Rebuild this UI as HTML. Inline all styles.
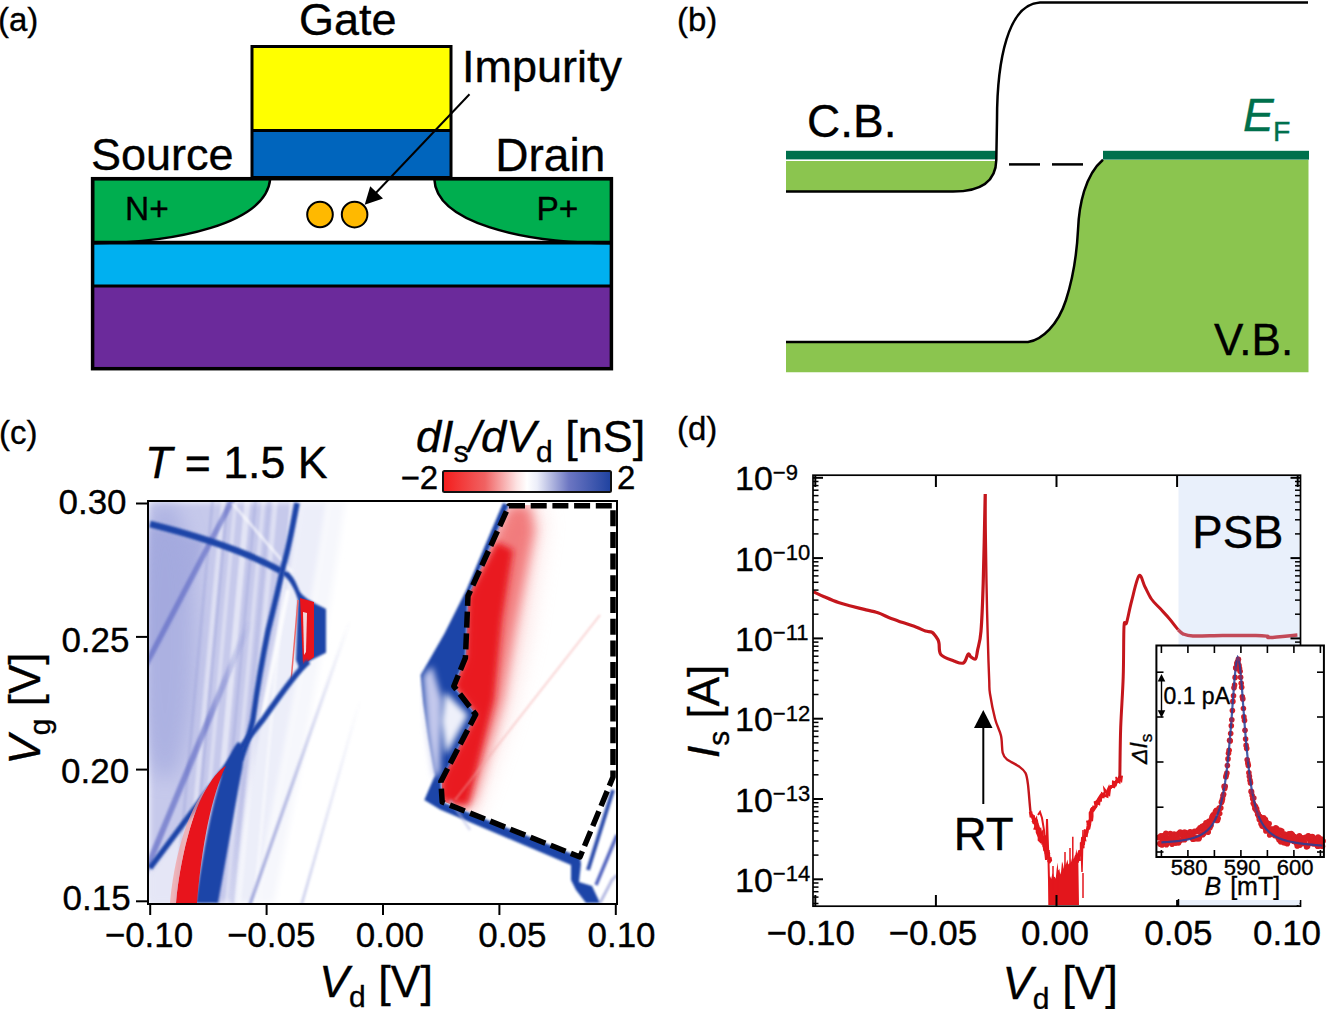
<!DOCTYPE html>
<html><head><meta charset="utf-8">
<style>
html,body{margin:0;padding:0;background:#fff;width:1326px;height:1009px;overflow:hidden}
svg{display:block}
text{font-family:"Liberation Sans",sans-serif;fill:#000;stroke:#000;stroke-width:0.35px}
</style></head><body>
<svg width="1326" height="1009" viewBox="0 0 1326 1009">

<g id="pa">
<text x="-2" y="30.8" font-size="33">(a)</text>
<text x="299" y="35.4" font-size="45">Gate</text>
<text x="462" y="82" font-size="45">Impurity</text>
<text x="91" y="169.5" font-size="45">Source</text>
<text x="495.3" y="171.4" font-size="46">Drain</text>
<rect x="252" y="46.5" width="199" height="84" fill="#ffff00"/>
<rect x="252" y="130.5" width="199" height="47" fill="#0065bd"/>
<rect x="252" y="46.5" width="199" height="131" fill="none" stroke="#000" stroke-width="3"/>
<line x1="252" y1="130.5" x2="451" y2="130.5" stroke="#000" stroke-width="3"/>
<rect x="93" y="243" width="518.5" height="43" fill="#00b0f0"/>
<rect x="93" y="286" width="518.5" height="83" fill="#6b2a9b"/>
<path d="M93,179 L270.2,179 C266,224 175,243 93,243.2 Z" fill="#00ae4f" stroke="#000" stroke-width="2.5"/>
<path d="M611.5,179 L434.3,179 C436,222 520,243 611.5,243.2 Z" fill="#00ae4f" stroke="#000" stroke-width="2.5"/>
<rect x="92.6" y="178.7" width="518.8" height="190" fill="none" stroke="#000" stroke-width="3.5"/>
<line x1="93" y1="242.6" x2="611.5" y2="242.6" stroke="#000" stroke-width="3.8"/>
<line x1="93" y1="286" x2="611.5" y2="286" stroke="#000" stroke-width="3"/>
<text x="125" y="219.6" font-size="33.5">N+</text>
<text x="536.5" y="219.6" font-size="33.5">P+</text>
<circle cx="320" cy="214.5" r="12.8" fill="#ffb900" stroke="#000" stroke-width="2"/>
<circle cx="354.6" cy="214.6" r="12.8" fill="#ffb900" stroke="#000" stroke-width="2"/>
<line x1="469.5" y1="94.3" x2="372" y2="197" stroke="#000" stroke-width="2"/>
<path d="M364.7,204.8 L370.2,186.2 L383,198.5 Z" fill="#000"/>
</g>

<g id="pb">
<text x="677" y="31" font-size="33">(b)</text>
<path d="M786,342 L1028,342 C1042,340 1058,325 1066,300 C1074,275 1077,250 1078,230 C1079,205 1085,175 1103,159.7 L1308.5,159.7 L1308.5,372.3 L786,372.3 Z" fill="#8bc54f"/>
<path d="M786,161 L996,161 C996,178 985,191.6 953,191.6 L786,191.6 Z" fill="#8bc54f"/>
<rect x="786" y="150.8" width="210.5" height="8.6" fill="#00704c"/>
<rect x="1103" y="150.8" width="206" height="8.8" fill="#00704c"/>
<path d="M1308,2.5 L1040,2.5 C1008,4 997,60 997,120 L996.3,160 C996,178 985,191.6 953,191.6 L786,191.6" fill="none" stroke="#000" stroke-width="2.5"/>
<path d="M786,342 L1028,342 C1042,340 1058,325 1066,300 C1074,275 1077,250 1078,230 C1079,205 1085,175 1103,159.7" fill="none" stroke="#000" stroke-width="2.5"/>
<line x1="1009" y1="164.4" x2="1040" y2="164.4" stroke="#000" stroke-width="2.5"/>
<line x1="1052" y1="164.4" x2="1083" y2="164.4" stroke="#000" stroke-width="2.5"/>
<text x="807" y="137" font-size="46">C.B.</text>
<text x="1214" y="354.6" font-size="44">V.B.</text>
<text x="1243" y="130.5" font-size="46" font-style="italic" style="fill:#00704c;stroke:#00704c">E</text>
<text x="1273" y="141" font-size="28.5" style="fill:#00704c;stroke:#00704c">F</text>
</g>

<g id="pc">
<defs>
<linearGradient id="cbar" x1="0" x2="1" y1="0" y2="0">
<stop offset="0" stop-color="#f41c1c"/><stop offset="0.25" stop-color="#f06262"/><stop offset="0.44" stop-color="#fde4e4"/><stop offset="0.5" stop-color="#ffffff"/><stop offset="0.56" stop-color="#eceef9"/><stop offset="0.75" stop-color="#6c76c2"/><stop offset="1" stop-color="#1f42a0"/>
</linearGradient>
<linearGradient id="lav" x1="0" x2="1" y1="0" y2="0">
<stop offset="0" stop-color="#b9bde6"/><stop offset="0.5" stop-color="#d4d6f0"/><stop offset="1" stop-color="#eeeffa"/>
</linearGradient>
<linearGradient id="redfade" x1="0" x2="1" y1="0" y2="0">
<stop offset="0" stop-color="#e8141c"/><stop offset="0.35" stop-color="#ef5050"/><stop offset="0.75" stop-color="#fbd0d0"/><stop offset="1" stop-color="#ffffff" stop-opacity="0"/>
</linearGradient>
<filter id="bl1" x="-20%" y="-20%" width="140%" height="140%"><feGaussianBlur stdDeviation="1"/></filter>
<filter id="bl3" x="-20%" y="-20%" width="140%" height="140%"><feGaussianBlur stdDeviation="3"/></filter>
<filter id="bl6" x="-30%" y="-30%" width="160%" height="160%"><feGaussianBlur stdDeviation="6"/></filter>
<filter id="bl8" x="-30%" y="-30%" width="160%" height="160%"><feGaussianBlur stdDeviation="10"/></filter>
<linearGradient id="fs2" gradientUnits="userSpaceOnUse" x1="140" y1="885" x2="250" y2="620"><stop offset="0" stop-color="#4f5bbf" stop-opacity="0.6"/><stop offset="0.6" stop-color="#4f5bbf" stop-opacity="0.55"/><stop offset="1" stop-color="#4f5bbf" stop-opacity="0"/></linearGradient>
<linearGradient id="fl1" gradientUnits="userSpaceOnUse" x1="248" y1="910" x2="350" y2="620"><stop offset="0" stop-color="#6670c4" stop-opacity="0.55"/><stop offset="0.4" stop-color="#6670c4" stop-opacity="0.4"/><stop offset="1" stop-color="#6670c4" stop-opacity="0"/></linearGradient>
<linearGradient id="fl2" gradientUnits="userSpaceOnUse" x1="300" y1="910" x2="360" y2="700"><stop offset="0" stop-color="#8a92d2" stop-opacity="0.4"/><stop offset="1" stop-color="#8a92d2" stop-opacity="0"/></linearGradient>
<clipPath id="cclip"><rect x="149" y="502" width="467" height="401"/></clipPath>
</defs>

<g clip-path="url(#cclip)">
<path d="M149,502 L300,502 C290,600 262,700 236,903 L149,903 Z" fill="#c6c9eb" filter="url(#bl3)"/>
<path d="M149,527 L205,540 L198,566 L154,652 L149,662 Z" fill="#969dd9" opacity="0.6" filter="url(#bl3)"/>
<ellipse cx="165" cy="640" rx="30" ry="140" fill="#a2a8de" opacity="0.7" filter="url(#bl8)"/>
<path d="M300,502 L328,502 C312,620 284,760 256,903 L232,903 C258,700 288,600 300,502 Z" fill="#eceef9" filter="url(#bl3)"/>
<path d="M328,502 L345,502 C330,620 302,760 274,903 L256,903 C284,760 312,620 328,502 Z" fill="#f6f7fc" filter="url(#bl3)"/>
<path d="M149,872 L226,766 L190,830 L176,903 L149,903 Z" fill="#ffffff" opacity="0.55" filter="url(#bl3)"/>
<line x1="224" y1="495" x2="186" y2="910" stroke="#ffffff" stroke-width="5" opacity="0.4" filter="url(#bl1)"/>
<line x1="236" y1="495" x2="198" y2="910" stroke="#ffffff" stroke-width="4" opacity="0.35" filter="url(#bl1)"/>
<line x1="248" y1="495" x2="210" y2="910" stroke="#ffffff" stroke-width="6" opacity="0.5" filter="url(#bl1)"/>
<line x1="264" y1="495" x2="226" y2="910" stroke="#ffffff" stroke-width="4" opacity="0.35" filter="url(#bl1)"/>
<line x1="276" y1="495" x2="238" y2="910" stroke="#ffffff" stroke-width="5" opacity="0.4" filter="url(#bl1)"/>
<line x1="292" y1="495" x2="254" y2="910" stroke="#ffffff" stroke-width="3" opacity="0.5" filter="url(#bl1)"/>
<line x1="228" y1="495" x2="190" y2="910" stroke="#8f96d4" stroke-width="3" opacity="0.3" filter="url(#bl1)"/>
<line x1="256" y1="495" x2="218" y2="910" stroke="#8f96d4" stroke-width="3" opacity="0.3" filter="url(#bl1)"/>
<line x1="270" y1="495" x2="232" y2="910" stroke="#8f96d4" stroke-width="2" opacity="0.25" filter="url(#bl1)"/>
<line x1="213" y1="495" x2="175" y2="910" stroke="#8f96d4" stroke-width="3" opacity="0.3" filter="url(#bl1)"/>
<line x1="140" y1="676" x2="235" y2="495" stroke="#4f5bbf" stroke-width="5.5" opacity="0.55" filter="url(#bl1)"/>
<line x1="232" y1="503" x2="292" y2="572" stroke="#ffffff" stroke-width="3" opacity="0.6" filter="url(#bl1)"/>
<line x1="288" y1="590" x2="262" y2="720" stroke="#ffffff" stroke-width="4" opacity="0.8" filter="url(#bl1)"/>
<path d="M140,885 L250,620" stroke="url(#fs2)" stroke-width="6" fill="none" filter="url(#bl1)"/>
<path d="M248,910 L350,620" stroke="url(#fl1)" stroke-width="3.5" fill="none" filter="url(#bl1)"/>
<path d="M300,910 L360,700" stroke="url(#fl2)" stroke-width="3" fill="none" filter="url(#bl1)"/>
<path d="M150,524 C190,534 240,548 281,571" fill="none" stroke="#1f45a8" stroke-width="6.5" filter="url(#bl1)"/>
<path d="M297,503 C292,530 288,550 283.5,565.5 C277,595 272,615 268,631 C262,660 257,690 252.9,720 C248,740 244,752 240,760" fill="none" stroke="#1f45a8" stroke-width="5.5" filter="url(#bl1)"/>
<path d="M283,571 L288,572 C293,576 296,582 299,590 C302,596 308,600 326,609 L326,652.7 L308.6,661.5 L300,670 L296,660 L298,600 C295,590 290,580 283,575 Z" fill="#1f45a8" filter="url(#bl1)"/>
<path d="M300,598 L314,602 L314,657 L303,665 Z" fill="#e8141c"/>
<path d="M303,612 L307,613 L306,652 L304,655 Z" fill="#f2d8dc"/>
<path d="M298,600 L291,682" stroke="#ee6a6a" stroke-width="1.5" fill="none"/>
<path d="M308.6,661.5 C300,668 285,688 262.7,720 C230,760 190,815 150,868" fill="none" stroke="#1f45a8" stroke-width="5.5" filter="url(#bl1)"/>
<path d="M238,742 C244,745 245,752 242,770 C236,800 228,850 218,903 L196,903 C203,850 213,800 224,768 C230,755 234,746 238,742 Z" fill="#1f45a8" filter="url(#bl1)"/>
<path d="M226,766 C216,785 203,830 197,903 L176,903 C180,860 192,810 208,786 C214,776 220,769 226,766 Z" fill="#e8141c"/>
<path d="M208,786 C192,810 180,860 176,903 L170,903 C174,860 186,812 208,786 Z" fill="#f3a0a0" opacity="0.7"/>
<clipPath id="dclip"><path d="M509,505 L613,505 L613,777 L580,857 L442.5,801 L441.4,779 L475.7,714.5 L453.8,686.2 L465.4,657.9 L468,596 Z"/></clipPath>
<g clip-path="url(#dclip)">
<path d="M509,500 L535,500 L545,520 L527,640 L508,720 L470,830 L440,860 L441.4,779 L475.7,714.5 L453.8,686.2 L465.4,657.9 L468,596 Z" fill="#fbd0d0" opacity="0.6" filter="url(#bl8)"/>
<path d="M509,505 L530,505 L535,530 L515,630 L503,700 L474,800 L440,830 L441.4,779 L475.7,714.5 L453.8,686.2 L465.4,657.9 L468,596 Z" fill="#f06a6c" opacity="0.85" filter="url(#bl6)"/>
<path d="M497,542 L513,550 L502,620 L494,700 L468,805 L440,800 L441.4,779 L475.7,714.5 L453.8,686.2 L465.4,657.9 L468,596 Z" fill="#e8141c" opacity="0.95" filter="url(#bl3)"/>
<line x1="455" y1="800" x2="600" y2="615" stroke="#f3a8a8" stroke-width="2" opacity="0.5" filter="url(#bl1)"/>
</g>
<path d="M503,503 L509,505 L468,596 L465.4,657.9 L453.8,686.2 L475.7,714.5 L440.9,781.5 L442.2,802 L580,857 L581,864 L579,882 L592,886 L600,903 L586,903 L576,890 L571,880 L571,865 L440,809.5 L424.3,800 L435,775 L428.75,739.3 L423.4,703.6 L420.7,675 L444.6,633.3 L466.9,588.7 L484.8,546 Z" fill="#1f45a8" filter="url(#bl1)"/>
<path d="M423,676 L432,666 L442,700 L440,772 L434,778 L427,730 Z" fill="#c3c8ec" filter="url(#bl3)"/>
<path d="M445,692 L468,715 L446,755 L441,721 Z" fill="#eef0fa" filter="url(#bl3)"/>
<path d="M450,800 L470,830" stroke="#b8bde6" stroke-width="3" opacity="0.5" filter="url(#bl1)"/>
<path d="M613,790 L588,870" fill="none" stroke="#2f4eac" stroke-width="4" filter="url(#bl1)"/>
<path d="M617,835 L596,885" fill="none" stroke="#5566c0" stroke-width="3.5" filter="url(#bl1)"/>
<path d="M600,903 L612,880 L617,875" fill="none" stroke="#8890d0" stroke-width="3" opacity="0.6" filter="url(#bl1)"/>
<path d="M509,505.7 L613,505.7 L613,777 L580,857 L442.2,802 L440.9,781.5 L475.7,714.5 L453.8,686.2 L465.4,657.9 L468,596 Z" fill="none" stroke="#000" stroke-width="5.5" stroke-dasharray="16 5.7" stroke-linejoin="round"/>
</g>
<rect x="148" y="501" width="469" height="403" fill="none" stroke="#000" stroke-width="2"/>
<rect x="443" y="471" width="168" height="21" rx="1.5" fill="url(#cbar)" stroke="#111" stroke-width="2"/>
<line x1="136" y1="503.5" x2="148" y2="503.5" stroke="#000" stroke-width="2"/>
<text x="126.6" y="514.1" font-size="35" text-anchor="end">0.30</text>
<line x1="136" y1="636.9" x2="148" y2="636.9" stroke="#000" stroke-width="2"/>
<text x="129.5" y="651.7" font-size="35" text-anchor="end">0.25</text>
<line x1="136" y1="769.6" x2="148" y2="769.6" stroke="#000" stroke-width="2"/>
<text x="129.2" y="782.9" font-size="35" text-anchor="end">0.20</text>
<line x1="136" y1="901.3" x2="148" y2="901.3" stroke="#000" stroke-width="2"/>
<text x="130.7" y="909.5" font-size="35" text-anchor="end">0.15</text>
<line x1="150.2" y1="904" x2="150.2" y2="915" stroke="#000" stroke-width="2"/>
<text x="149" y="946.5" font-size="35" text-anchor="middle">−0.10</text>
<line x1="266.6" y1="904" x2="266.6" y2="915" stroke="#000" stroke-width="2"/>
<text x="271.2" y="946.5" font-size="35" text-anchor="middle">−0.05</text>
<line x1="383" y1="904" x2="383" y2="915" stroke="#000" stroke-width="2"/>
<text x="389.8" y="946.5" font-size="35" text-anchor="middle">0.00</text>
<line x1="499.4" y1="904" x2="499.4" y2="915" stroke="#000" stroke-width="2"/>
<text x="512.3" y="946.5" font-size="35" text-anchor="middle">0.05</text>
<line x1="615.8" y1="904" x2="615.8" y2="915" stroke="#000" stroke-width="2"/>
<text x="621.5" y="946.5" font-size="35" text-anchor="middle">0.10</text>
<text x="-1" y="443.5" font-size="33">(c)</text>
<text x="145" y="478.2" font-size="44.7"><tspan font-style="italic">T</tspan> = 1.5 K</text>
<text x="416" y="451.7" font-size="45"><tspan font-style="italic">dI</tspan><tspan font-size="30" dy="10">s</tspan><tspan dy="-10" font-style="italic">/dV</tspan><tspan font-size="30" dy="10">d</tspan><tspan dy="-10"> [nS]</tspan></text>
<text x="400.5" y="488.9" font-size="33">−2</text>
<text x="617" y="488.9" font-size="33">2</text>
<text x="319.3" y="996.7" font-size="44.7"><tspan font-style="italic">V</tspan><tspan font-size="30" dy="10">d</tspan><tspan dy="-10"> [V]</tspan></text>
<text transform="translate(39.6,764.5) rotate(-90)" font-size="44"><tspan font-style="italic">V</tspan><tspan font-size="30" dy="10">g</tspan><tspan dy="-10"> [V]</tspan></text>
</g>
<g id="pd">
<rect x="1178.5" y="476" width="121" height="430" fill="#e9f0fb"/>
<path d="M813.4,591.7 C815.1,592.5 819.4,594.7 823.6,596.5 C827.8,598.3 834.0,601.0 838.5,602.6 C843.0,604.2 846.4,604.9 850.7,606.0 C855.0,607.1 859.8,608.3 864.3,609.4 C868.8,610.5 873.8,611.4 877.9,612.8 C882.0,614.1 885.3,616.1 888.7,617.5 C892.1,618.9 893.7,619.3 898.2,620.9 C902.7,622.5 911.4,625.3 915.9,627.0 C920.4,628.7 922.7,630.2 925.4,631.1 C928.1,632.0 930.2,631.0 932.2,632.4 C934.2,633.8 936.5,637.4 937.6,639.2 C938.7,641.0 938.4,640.7 939.0,643.3 C939.6,645.9 938.5,651.9 941.0,654.8 C943.5,657.7 950.2,659.5 953.9,660.9 C957.6,662.3 961.0,664.1 963.4,663.0 C965.8,661.9 966.9,655.2 968.1,654.2 C969.4,653.2 969.6,656.1 970.9,656.9 C972.1,657.7 974.5,660.0 975.6,658.9 C976.7,657.8 976.7,654.7 977.6,650.1 C978.5,645.5 980.1,642.2 981.0,631.1 C981.9,620.0 982.5,606.5 983.2,583.6 C983.9,560.8 984.9,508.9 985.2,494.0" fill="none" stroke="#c4161c" stroke-width="3.2" stroke-linejoin="round"/>
<path d="M985.2,494.0 C985.4,508.9 986.1,559.6 986.5,583.6 C986.9,607.6 987.3,621.8 987.8,637.9 C988.2,654.0 988.8,670.7 989.2,680.0 C989.6,689.3 989.0,687.2 990.0,693.7 C991.0,700.2 993.3,712.0 995.1,719.0 C996.9,726.0 999.7,730.2 1001.0,735.8 C1002.3,741.4 1001.7,748.8 1002.7,752.7 C1003.7,756.6 1004.2,757.1 1006.9,759.4 C1009.6,761.6 1015.6,763.9 1018.7,766.2 C1021.8,768.5 1024.0,769.9 1025.5,773.0 C1027.0,776.1 1027.2,778.2 1028.0,784.7 C1028.8,791.2 1029.8,806.4 1030.5,811.7 C1031.2,817.0 1031.9,815.9 1032.2,816.7" fill="none" stroke="#c4161c" stroke-width="2.4" stroke-linejoin="round"/>
<path d="M1030.5,811.6 L1030.9,813.5 L1031.4,817.4 L1031.8,814.8 L1032.2,816.2 L1032.7,817.8 L1033.1,815.6 L1033.6,819.3 L1034.0,821.2 L1034.4,823.6 L1034.9,819.0 L1035.3,821.7 L1035.7,821.0 L1036.2,827.8 L1036.6,827.9 L1037.0,823.7 L1037.5,832.3 L1037.9,833.2 L1038.3,831.7 L1038.8,832.4 L1039.2,829.8 L1039.7,829.7 L1040.1,834.8 L1040.5,832.1 L1041.0,834.1 L1041.4,835.6 L1041.8,834.9 L1042.3,839.4 L1042.7,840.2 L1043.1,844.5 L1043.6,842.9 L1044.0,844.9 L1044.4,844.8 L1044.9,847.1 L1045.3,846.5 L1045.8,846.1 L1046.2,852.9 L1046.6,853.9 L1047.1,853.7 L1047.5,853.7" fill="none" stroke="#e3161c" stroke-width="3.5"/>
<path d="M1032.6,816.0 L1033.0,816.9 L1034.4,822.8 L1035.0,820.1 L1035.7,824.2 L1034.2,822.1 L1036.4,821.5 L1037.0,824.7 L1035.6,828.0 L1037.5,828.2 L1036.5,824.0 L1038.7,829.3 L1037.5,825.5 L1037.9,831.2 L1039.7,832.0 L1039.7,829.4 L1039.4,839.7 L1039.7,840.0 L1040.1,837.2 L1040.7,837.0 L1042.7,837.6 L1041.8,838.0 L1042.0,840.2 L1043.7,838.9 L1042.7,843.1 L1043.3,840.1 L1044.9,839.9 L1044.4,842.8 L1044.4,846.7 L1045.1,851.1 L1045.8,848.6 L1047.4,850.8 L1047.1,853.0 L1046.8,851.1 L1048.6,854.4 L1047.8,850.3 L1049.2,861.5 L1048.5,862.6 L1050.3,860.3 L1049.8,857.3" fill="none" stroke="#e3161c" stroke-width="3.5"/>
<path d="M1038,815 L1040,812 L1042,818 L1044,830 L1045,850 L1046,860 L1047,819 L1048.5,860 L1049.6,905" fill="none" stroke="#e3161c" stroke-width="2"/>
<path d="M1048.5,905.0 L1048.5,875.3 L1049.4,876.8 L1050.3,876.6 L1051.2,879.1 L1052.1,874.7 L1053.0,873.1 L1053.9,876.9 L1054.8,876.7 L1055.7,878.7 L1056.6,869.8 L1057.5,862.4 L1058.4,871.4 L1059.3,868.4 L1060.2,874.4 L1061.1,871.4 L1062.0,861.4 L1062.9,863.9 L1063.8,869.1 L1064.7,862.0 L1065.6,865.2 L1066.5,862.8 L1067.4,859.6 L1068.3,864.5 L1069.2,863.5 L1070.1,863.0 L1071.0,858.0 L1071.9,861.9 L1072.8,856.4 L1073.7,859.4 L1074.6,856.1 L1075.5,854.6 L1076.4,849.0 L1077.3,856.1 L1078.2,852.6 L1079.0,905.0 Z" fill="#e3161c"/>
<line x1="1053" y1="891" x2="1053" y2="866" stroke="#e3161c" stroke-width="1.5"/>
<line x1="1058" y1="895" x2="1058" y2="870" stroke="#e3161c" stroke-width="1.5"/>
<line x1="1065" y1="877" x2="1065" y2="852" stroke="#e3161c" stroke-width="1.5"/>
<line x1="1072.8" y1="861.7" x2="1072.8" y2="836.7" stroke="#e3161c" stroke-width="1.5"/>
<line x1="1070" y1="873" x2="1070" y2="848" stroke="#e3161c" stroke-width="1.5"/>
<line x1="1083" y1="898" x2="1083" y2="873" stroke="#e3161c" stroke-width="1.5"/>
<path d="M1077.5,862.5 L1077.6,861.7 L1077.5,858.8 L1078.1,855.5 L1079.7,850.9 L1080.8,850.2 L1081.3,850.4 L1081.3,842.6 L1082.0,844.2 L1082.5,838.8 L1084.6,839.4 L1084.4,838.4 L1084.8,834.7 L1085.2,830.9 L1087.1,831.5 L1088.0,825.9 L1088.1,823.2 L1087.8,821.9 L1089.9,821.6 L1090.3,819.9 L1090.2,812.8 L1091.2,811.1 L1091.4,809.6 L1093.2,808.8 L1093.7,809.7 L1096.0,806.2 L1095.3,802.5 L1097.9,801.4 L1098.6,803.4 L1098.8,803.5 L1099.3,798.4 L1101.2,796.5 L1103.0,796.6 L1102.7,794.3 L1104.7,795.5 L1105.7,795.6 L1107.1,796.2 L1107.9,790.4 L1108.5,789.1 L1108.6,789.7 L1111.1,786.8 L1111.2,786.6 L1113.1,786.4 L1114.0,786.7 L1114.6,785.7 L1116.7,780.3 L1117.7,782.9 L1117.2,780.1 L1119.2,781.6 L1119.8,778.4" fill="none" stroke="#e3161c" stroke-width="3"/>
<path d="M1079.5,861.0 L1079.6,859.9 L1079.5,857.6 L1080.1,852.4 L1081.7,848.6 L1082.8,846.0 L1083.3,848.3 L1083.3,840.8 L1084.0,841.8 L1084.5,836.7 L1086.6,835.2 L1086.4,837.0 L1086.8,833.6 L1087.2,829.8 L1089.1,828.6 L1090.0,824.1 L1090.1,819.4 L1089.8,820.5 L1091.9,820.1 L1092.3,816.3 L1092.2,808.2 L1093.2,807.9 L1093.4,806.8 L1095.2,806.9 L1095.7,806.7 L1098.0,801.3 L1097.3,800.7 L1099.9,796.6 L1100.6,801.6 L1100.8,799.2 L1101.3,794.7 L1103.2,794.7 L1105.0,792.2 L1104.7,789.9 L1106.7,792.6 L1107.7,793.4 L1109.1,794.5 L1109.9,788.2 L1110.5,787.9 L1110.6,786.7 L1113.1,785.6 L1113.2,781.9 L1115.1,782.3 L1116.0,783.8 L1116.6,781.8 L1118.7,778.2 L1119.7,780.5 L1119.2,777.2 L1121.2,780.0 L1121.8,775.7" fill="none" stroke="#e3161c" stroke-width="2.5"/>
<path d="M1081,842 L1082,872 L1083,830" fill="none" stroke="#e3161c" stroke-width="1.5"/>
<path d="M1119.8,778.0 C1120.0,769.6 1120.1,744.2 1120.7,727.4 C1121.3,710.5 1122.7,693.7 1123.2,676.9 C1123.8,660.1 1123.5,635.4 1124.0,626.4 C1124.5,617.4 1125.2,627.1 1126.5,623.0 C1127.8,618.9 1129.4,609.4 1131.5,601.5 C1133.6,593.6 1136.8,578.3 1139.0,575.8 C1141.2,573.3 1142.7,582.6 1144.8,586.5 C1146.9,590.4 1148.9,595.4 1151.4,599.0 C1153.9,602.6 1156.7,604.8 1159.7,608.1 C1162.7,611.4 1166.5,615.3 1169.6,618.9 C1172.6,622.5 1176.6,627.9 1178.0,629.7" fill="none" stroke="#c4161c" stroke-width="3" stroke-linejoin="round"/>
<path d="M1178.0,629.7 C1178.8,630.4 1180.4,632.8 1182.9,633.8 C1185.4,634.8 1186.3,635.7 1192.9,636.0 C1199.5,636.3 1212.2,635.6 1222.7,635.5 C1233.2,635.4 1248.4,635.4 1255.9,635.5 C1263.4,635.6 1265.2,636.0 1267.5,636.3 C1269.8,636.6 1265.0,637.7 1270.0,637.5 C1275.0,637.3 1292.8,635.4 1297.4,635.0" fill="none" stroke="#c34a58" stroke-width="3.4" stroke-linejoin="round"/>
<rect x="813" y="475.2" width="487.5" height="431" fill="none" stroke="#000" stroke-width="1.7"/>
<line x1="813" y1="879.3" x2="823" y2="879.3" stroke="#000" stroke-width="2"/>
<line x1="1290.5" y1="879.3" x2="1300.5" y2="879.3" stroke="#000" stroke-width="2"/>
<line x1="813" y1="799.0" x2="823" y2="799.0" stroke="#000" stroke-width="2"/>
<line x1="1290.5" y1="799.0" x2="1300.5" y2="799.0" stroke="#000" stroke-width="2"/>
<line x1="813" y1="718.7" x2="823" y2="718.7" stroke="#000" stroke-width="2"/>
<line x1="1290.5" y1="718.7" x2="1300.5" y2="718.7" stroke="#000" stroke-width="2"/>
<line x1="813" y1="638.4" x2="823" y2="638.4" stroke="#000" stroke-width="2"/>
<line x1="1290.5" y1="638.4" x2="1300.5" y2="638.4" stroke="#000" stroke-width="2"/>
<line x1="813" y1="558.1" x2="823" y2="558.1" stroke="#000" stroke-width="2"/>
<line x1="1290.5" y1="558.1" x2="1300.5" y2="558.1" stroke="#000" stroke-width="2"/>
<line x1="813" y1="477.8" x2="823" y2="477.8" stroke="#000" stroke-width="2"/>
<line x1="1290.5" y1="477.8" x2="1300.5" y2="477.8" stroke="#000" stroke-width="2"/>
<line x1="813" y1="903.5" x2="818.5" y2="903.5" stroke="#000" stroke-width="1.5"/>
<line x1="1295" y1="903.5" x2="1300.5" y2="903.5" stroke="#000" stroke-width="1.5"/>
<line x1="813" y1="897.1" x2="818.5" y2="897.1" stroke="#000" stroke-width="1.5"/>
<line x1="1295" y1="897.1" x2="1300.5" y2="897.1" stroke="#000" stroke-width="1.5"/>
<line x1="813" y1="891.7" x2="818.5" y2="891.7" stroke="#000" stroke-width="1.5"/>
<line x1="1295" y1="891.7" x2="1300.5" y2="891.7" stroke="#000" stroke-width="1.5"/>
<line x1="813" y1="887.1" x2="818.5" y2="887.1" stroke="#000" stroke-width="1.5"/>
<line x1="1295" y1="887.1" x2="1300.5" y2="887.1" stroke="#000" stroke-width="1.5"/>
<line x1="813" y1="883.0" x2="818.5" y2="883.0" stroke="#000" stroke-width="1.5"/>
<line x1="1295" y1="883.0" x2="1300.5" y2="883.0" stroke="#000" stroke-width="1.5"/>
<line x1="813" y1="855.1" x2="818.5" y2="855.1" stroke="#000" stroke-width="1.5"/>
<line x1="1295" y1="855.1" x2="1300.5" y2="855.1" stroke="#000" stroke-width="1.5"/>
<line x1="813" y1="841.0" x2="818.5" y2="841.0" stroke="#000" stroke-width="1.5"/>
<line x1="1295" y1="841.0" x2="1300.5" y2="841.0" stroke="#000" stroke-width="1.5"/>
<line x1="813" y1="831.0" x2="818.5" y2="831.0" stroke="#000" stroke-width="1.5"/>
<line x1="1295" y1="831.0" x2="1300.5" y2="831.0" stroke="#000" stroke-width="1.5"/>
<line x1="813" y1="823.2" x2="818.5" y2="823.2" stroke="#000" stroke-width="1.5"/>
<line x1="1295" y1="823.2" x2="1300.5" y2="823.2" stroke="#000" stroke-width="1.5"/>
<line x1="813" y1="816.8" x2="818.5" y2="816.8" stroke="#000" stroke-width="1.5"/>
<line x1="1295" y1="816.8" x2="1300.5" y2="816.8" stroke="#000" stroke-width="1.5"/>
<line x1="813" y1="811.4" x2="818.5" y2="811.4" stroke="#000" stroke-width="1.5"/>
<line x1="1295" y1="811.4" x2="1300.5" y2="811.4" stroke="#000" stroke-width="1.5"/>
<line x1="813" y1="806.8" x2="818.5" y2="806.8" stroke="#000" stroke-width="1.5"/>
<line x1="1295" y1="806.8" x2="1300.5" y2="806.8" stroke="#000" stroke-width="1.5"/>
<line x1="813" y1="802.7" x2="818.5" y2="802.7" stroke="#000" stroke-width="1.5"/>
<line x1="1295" y1="802.7" x2="1300.5" y2="802.7" stroke="#000" stroke-width="1.5"/>
<line x1="813" y1="774.8" x2="818.5" y2="774.8" stroke="#000" stroke-width="1.5"/>
<line x1="1295" y1="774.8" x2="1300.5" y2="774.8" stroke="#000" stroke-width="1.5"/>
<line x1="813" y1="760.7" x2="818.5" y2="760.7" stroke="#000" stroke-width="1.5"/>
<line x1="1295" y1="760.7" x2="1300.5" y2="760.7" stroke="#000" stroke-width="1.5"/>
<line x1="813" y1="750.7" x2="818.5" y2="750.7" stroke="#000" stroke-width="1.5"/>
<line x1="1295" y1="750.7" x2="1300.5" y2="750.7" stroke="#000" stroke-width="1.5"/>
<line x1="813" y1="742.9" x2="818.5" y2="742.9" stroke="#000" stroke-width="1.5"/>
<line x1="1295" y1="742.9" x2="1300.5" y2="742.9" stroke="#000" stroke-width="1.5"/>
<line x1="813" y1="736.5" x2="818.5" y2="736.5" stroke="#000" stroke-width="1.5"/>
<line x1="1295" y1="736.5" x2="1300.5" y2="736.5" stroke="#000" stroke-width="1.5"/>
<line x1="813" y1="731.1" x2="818.5" y2="731.1" stroke="#000" stroke-width="1.5"/>
<line x1="1295" y1="731.1" x2="1300.5" y2="731.1" stroke="#000" stroke-width="1.5"/>
<line x1="813" y1="726.5" x2="818.5" y2="726.5" stroke="#000" stroke-width="1.5"/>
<line x1="1295" y1="726.5" x2="1300.5" y2="726.5" stroke="#000" stroke-width="1.5"/>
<line x1="813" y1="722.4" x2="818.5" y2="722.4" stroke="#000" stroke-width="1.5"/>
<line x1="1295" y1="722.4" x2="1300.5" y2="722.4" stroke="#000" stroke-width="1.5"/>
<line x1="813" y1="694.5" x2="818.5" y2="694.5" stroke="#000" stroke-width="1.5"/>
<line x1="1295" y1="694.5" x2="1300.5" y2="694.5" stroke="#000" stroke-width="1.5"/>
<line x1="813" y1="680.4" x2="818.5" y2="680.4" stroke="#000" stroke-width="1.5"/>
<line x1="1295" y1="680.4" x2="1300.5" y2="680.4" stroke="#000" stroke-width="1.5"/>
<line x1="813" y1="670.4" x2="818.5" y2="670.4" stroke="#000" stroke-width="1.5"/>
<line x1="1295" y1="670.4" x2="1300.5" y2="670.4" stroke="#000" stroke-width="1.5"/>
<line x1="813" y1="662.6" x2="818.5" y2="662.6" stroke="#000" stroke-width="1.5"/>
<line x1="1295" y1="662.6" x2="1300.5" y2="662.6" stroke="#000" stroke-width="1.5"/>
<line x1="813" y1="656.2" x2="818.5" y2="656.2" stroke="#000" stroke-width="1.5"/>
<line x1="1295" y1="656.2" x2="1300.5" y2="656.2" stroke="#000" stroke-width="1.5"/>
<line x1="813" y1="650.8" x2="818.5" y2="650.8" stroke="#000" stroke-width="1.5"/>
<line x1="1295" y1="650.8" x2="1300.5" y2="650.8" stroke="#000" stroke-width="1.5"/>
<line x1="813" y1="646.2" x2="818.5" y2="646.2" stroke="#000" stroke-width="1.5"/>
<line x1="1295" y1="646.2" x2="1300.5" y2="646.2" stroke="#000" stroke-width="1.5"/>
<line x1="813" y1="642.1" x2="818.5" y2="642.1" stroke="#000" stroke-width="1.5"/>
<line x1="1295" y1="642.1" x2="1300.5" y2="642.1" stroke="#000" stroke-width="1.5"/>
<line x1="813" y1="614.2" x2="818.5" y2="614.2" stroke="#000" stroke-width="1.5"/>
<line x1="1295" y1="614.2" x2="1300.5" y2="614.2" stroke="#000" stroke-width="1.5"/>
<line x1="813" y1="600.1" x2="818.5" y2="600.1" stroke="#000" stroke-width="1.5"/>
<line x1="1295" y1="600.1" x2="1300.5" y2="600.1" stroke="#000" stroke-width="1.5"/>
<line x1="813" y1="590.1" x2="818.5" y2="590.1" stroke="#000" stroke-width="1.5"/>
<line x1="1295" y1="590.1" x2="1300.5" y2="590.1" stroke="#000" stroke-width="1.5"/>
<line x1="813" y1="582.3" x2="818.5" y2="582.3" stroke="#000" stroke-width="1.5"/>
<line x1="1295" y1="582.3" x2="1300.5" y2="582.3" stroke="#000" stroke-width="1.5"/>
<line x1="813" y1="575.9" x2="818.5" y2="575.9" stroke="#000" stroke-width="1.5"/>
<line x1="1295" y1="575.9" x2="1300.5" y2="575.9" stroke="#000" stroke-width="1.5"/>
<line x1="813" y1="570.5" x2="818.5" y2="570.5" stroke="#000" stroke-width="1.5"/>
<line x1="1295" y1="570.5" x2="1300.5" y2="570.5" stroke="#000" stroke-width="1.5"/>
<line x1="813" y1="565.9" x2="818.5" y2="565.9" stroke="#000" stroke-width="1.5"/>
<line x1="1295" y1="565.9" x2="1300.5" y2="565.9" stroke="#000" stroke-width="1.5"/>
<line x1="813" y1="561.8" x2="818.5" y2="561.8" stroke="#000" stroke-width="1.5"/>
<line x1="1295" y1="561.8" x2="1300.5" y2="561.8" stroke="#000" stroke-width="1.5"/>
<line x1="813" y1="533.9" x2="818.5" y2="533.9" stroke="#000" stroke-width="1.5"/>
<line x1="1295" y1="533.9" x2="1300.5" y2="533.9" stroke="#000" stroke-width="1.5"/>
<line x1="813" y1="519.8" x2="818.5" y2="519.8" stroke="#000" stroke-width="1.5"/>
<line x1="1295" y1="519.8" x2="1300.5" y2="519.8" stroke="#000" stroke-width="1.5"/>
<line x1="813" y1="509.8" x2="818.5" y2="509.8" stroke="#000" stroke-width="1.5"/>
<line x1="1295" y1="509.8" x2="1300.5" y2="509.8" stroke="#000" stroke-width="1.5"/>
<line x1="813" y1="502.0" x2="818.5" y2="502.0" stroke="#000" stroke-width="1.5"/>
<line x1="1295" y1="502.0" x2="1300.5" y2="502.0" stroke="#000" stroke-width="1.5"/>
<line x1="813" y1="495.6" x2="818.5" y2="495.6" stroke="#000" stroke-width="1.5"/>
<line x1="1295" y1="495.6" x2="1300.5" y2="495.6" stroke="#000" stroke-width="1.5"/>
<line x1="813" y1="490.2" x2="818.5" y2="490.2" stroke="#000" stroke-width="1.5"/>
<line x1="1295" y1="490.2" x2="1300.5" y2="490.2" stroke="#000" stroke-width="1.5"/>
<line x1="813" y1="485.6" x2="818.5" y2="485.6" stroke="#000" stroke-width="1.5"/>
<line x1="1295" y1="485.6" x2="1300.5" y2="485.6" stroke="#000" stroke-width="1.5"/>
<line x1="813" y1="481.5" x2="818.5" y2="481.5" stroke="#000" stroke-width="1.5"/>
<line x1="1295" y1="481.5" x2="1300.5" y2="481.5" stroke="#000" stroke-width="1.5"/>
<text x="735" y="891.9" font-size="34">10<tspan font-size="22" dy="-10.6">−14</tspan></text>
<text x="735" y="811.6" font-size="34">10<tspan font-size="22" dy="-10.6">−13</tspan></text>
<text x="735" y="731.3" font-size="34">10<tspan font-size="22" dy="-10.6">−12</tspan></text>
<text x="735" y="651.0" font-size="34">10<tspan font-size="22" dy="-10.6">−11</tspan></text>
<text x="735" y="570.7" font-size="34">10<tspan font-size="22" dy="-10.6">−10</tspan></text>
<text x="735" y="490.4" font-size="34">10<tspan font-size="22" dy="-10.6">−9</tspan></text>
<line x1="815.3" y1="476" x2="815.3" y2="487" stroke="#000" stroke-width="2"/>
<line x1="815.3" y1="895" x2="815.3" y2="906" stroke="#000" stroke-width="2"/>
<text x="810.7" y="944.5" font-size="35" text-anchor="middle">−0.10</text>
<line x1="935.9" y1="476" x2="935.9" y2="487" stroke="#000" stroke-width="2"/>
<line x1="935.9" y1="895" x2="935.9" y2="906" stroke="#000" stroke-width="2"/>
<text x="932.9" y="944.5" font-size="35" text-anchor="middle">−0.05</text>
<line x1="1056.5" y1="476" x2="1056.5" y2="487" stroke="#000" stroke-width="2"/>
<line x1="1056.5" y1="895" x2="1056.5" y2="906" stroke="#000" stroke-width="2"/>
<text x="1055.0" y="944.5" font-size="35" text-anchor="middle">0.00</text>
<line x1="1177.1" y1="476" x2="1177.1" y2="487" stroke="#000" stroke-width="2"/>
<line x1="1177.1" y1="895" x2="1177.1" y2="906" stroke="#000" stroke-width="2"/>
<text x="1178.3" y="944.5" font-size="35" text-anchor="middle">0.05</text>
<line x1="1297.7" y1="476" x2="1297.7" y2="487" stroke="#000" stroke-width="2"/>
<line x1="1297.7" y1="895" x2="1297.7" y2="906" stroke="#000" stroke-width="2"/>
<text x="1287.0" y="944.5" font-size="35" text-anchor="middle">0.10</text>
<text x="677" y="440.3" font-size="33">(d)</text>
<text x="1192.3" y="548.3" font-size="45.5">PSB</text>
<text x="953.8" y="850.1" font-size="45.5">RT</text>
<line x1="983.3" y1="804" x2="983.3" y2="725" stroke="#000" stroke-width="2"/>
<path d="M983.3,710 L974,728 L992.5,728 Z" fill="#000"/>
<text x="1002.5" y="998.8" font-size="45.5"><tspan font-style="italic">V</tspan><tspan font-size="30" dy="10">d</tspan><tspan dy="-10"> [V]</tspan></text>
<text transform="translate(719,758) rotate(-90)" font-size="44"><tspan font-style="italic">I</tspan><tspan font-size="30" dy="10">s</tspan><tspan dy="-10"> [A]</tspan></text>
<rect x="1156.4" y="645.5" width="167.5" height="254.5" fill="#fff"/>
<line x1="1161.4" y1="646" x2="1161.4" y2="653" stroke="#000" stroke-width="1.6"/>
<line x1="1161.4" y1="850" x2="1161.4" y2="857" stroke="#000" stroke-width="1.6"/>
<line x1="1187.9" y1="646" x2="1187.9" y2="653" stroke="#000" stroke-width="1.6"/>
<line x1="1187.9" y1="850" x2="1187.9" y2="857" stroke="#000" stroke-width="1.6"/>
<line x1="1214.4" y1="646" x2="1214.4" y2="653" stroke="#000" stroke-width="1.6"/>
<line x1="1214.4" y1="850" x2="1214.4" y2="857" stroke="#000" stroke-width="1.6"/>
<line x1="1240.9" y1="646" x2="1240.9" y2="653" stroke="#000" stroke-width="1.6"/>
<line x1="1240.9" y1="850" x2="1240.9" y2="857" stroke="#000" stroke-width="1.6"/>
<line x1="1267.4" y1="646" x2="1267.4" y2="653" stroke="#000" stroke-width="1.6"/>
<line x1="1267.4" y1="850" x2="1267.4" y2="857" stroke="#000" stroke-width="1.6"/>
<line x1="1293.9" y1="646" x2="1293.9" y2="653" stroke="#000" stroke-width="1.6"/>
<line x1="1293.9" y1="850" x2="1293.9" y2="857" stroke="#000" stroke-width="1.6"/>
<line x1="1320.4" y1="646" x2="1320.4" y2="653" stroke="#000" stroke-width="1.6"/>
<line x1="1320.4" y1="850" x2="1320.4" y2="857" stroke="#000" stroke-width="1.6"/>
<line x1="1156.4" y1="672.2" x2="1163.5" y2="672.2" stroke="#000" stroke-width="1.6"/>
<line x1="1317" y1="672.2" x2="1324" y2="672.2" stroke="#000" stroke-width="1.6"/>
<line x1="1156.4" y1="717" x2="1163.5" y2="717" stroke="#000" stroke-width="1.6"/>
<line x1="1317" y1="717" x2="1324" y2="717" stroke="#000" stroke-width="1.6"/>
<line x1="1156.4" y1="762" x2="1163.5" y2="762" stroke="#000" stroke-width="1.6"/>
<line x1="1317" y1="762" x2="1324" y2="762" stroke="#000" stroke-width="1.6"/>
<line x1="1156.4" y1="807.2" x2="1163.5" y2="807.2" stroke="#000" stroke-width="1.6"/>
<line x1="1317" y1="807.2" x2="1324" y2="807.2" stroke="#000" stroke-width="1.6"/>
<line x1="1156.4" y1="852" x2="1163.5" y2="852" stroke="#000" stroke-width="1.6"/>
<line x1="1317" y1="852" x2="1324" y2="852" stroke="#000" stroke-width="1.6"/>
<circle cx="1158.8" cy="837.2" r="2.8" fill="#d81e24"/>
<circle cx="1159.3" cy="838.0" r="2.8" fill="#d81e24"/>
<circle cx="1159.8" cy="843.6" r="2.8" fill="#d81e24"/>
<circle cx="1160.4" cy="844.2" r="2.8" fill="#d81e24"/>
<circle cx="1160.9" cy="835.9" r="2.8" fill="#d81e24"/>
<circle cx="1161.5" cy="843.6" r="2.8" fill="#d81e24"/>
<circle cx="1162.0" cy="844.9" r="2.8" fill="#d81e24"/>
<circle cx="1162.6" cy="839.6" r="2.8" fill="#d81e24"/>
<circle cx="1163.1" cy="840.1" r="2.8" fill="#d81e24"/>
<circle cx="1163.7" cy="835.6" r="2.8" fill="#d81e24"/>
<circle cx="1164.2" cy="839.6" r="2.8" fill="#d81e24"/>
<circle cx="1164.8" cy="839.2" r="2.8" fill="#d81e24"/>
<circle cx="1165.3" cy="840.4" r="2.8" fill="#d81e24"/>
<circle cx="1165.9" cy="833.4" r="2.8" fill="#d81e24"/>
<circle cx="1166.4" cy="844.7" r="2.8" fill="#d81e24"/>
<circle cx="1167.0" cy="839.2" r="2.8" fill="#d81e24"/>
<circle cx="1167.5" cy="837.8" r="2.8" fill="#d81e24"/>
<circle cx="1168.1" cy="842.6" r="2.8" fill="#d81e24"/>
<circle cx="1168.6" cy="839.7" r="2.8" fill="#d81e24"/>
<circle cx="1169.2" cy="838.8" r="2.8" fill="#d81e24"/>
<circle cx="1169.7" cy="841.1" r="2.8" fill="#d81e24"/>
<circle cx="1170.3" cy="833.6" r="2.8" fill="#d81e24"/>
<circle cx="1170.8" cy="839.2" r="2.8" fill="#d81e24"/>
<circle cx="1171.4" cy="837.6" r="2.8" fill="#d81e24"/>
<circle cx="1171.9" cy="844.1" r="2.8" fill="#d81e24"/>
<circle cx="1172.5" cy="843.7" r="2.8" fill="#d81e24"/>
<circle cx="1173.0" cy="835.8" r="2.8" fill="#d81e24"/>
<circle cx="1173.6" cy="838.2" r="2.8" fill="#d81e24"/>
<circle cx="1174.1" cy="834.0" r="2.8" fill="#d81e24"/>
<circle cx="1174.7" cy="837.6" r="2.8" fill="#d81e24"/>
<circle cx="1175.2" cy="842.1" r="2.8" fill="#d81e24"/>
<circle cx="1175.8" cy="843.1" r="2.8" fill="#d81e24"/>
<circle cx="1176.3" cy="837.9" r="2.8" fill="#d81e24"/>
<circle cx="1176.9" cy="835.9" r="2.8" fill="#d81e24"/>
<circle cx="1177.4" cy="834.4" r="2.8" fill="#d81e24"/>
<circle cx="1178.0" cy="839.4" r="2.8" fill="#d81e24"/>
<circle cx="1178.5" cy="843.0" r="2.8" fill="#d81e24"/>
<circle cx="1179.1" cy="833.4" r="2.8" fill="#d81e24"/>
<circle cx="1179.6" cy="841.1" r="2.8" fill="#d81e24"/>
<circle cx="1180.2" cy="832.0" r="2.8" fill="#d81e24"/>
<circle cx="1180.7" cy="834.0" r="2.8" fill="#d81e24"/>
<circle cx="1181.3" cy="834.3" r="2.8" fill="#d81e24"/>
<circle cx="1181.8" cy="839.7" r="2.8" fill="#d81e24"/>
<circle cx="1182.4" cy="835.3" r="2.8" fill="#d81e24"/>
<circle cx="1182.9" cy="835.6" r="2.8" fill="#d81e24"/>
<circle cx="1183.5" cy="838.7" r="2.8" fill="#d81e24"/>
<circle cx="1184.0" cy="832.4" r="2.8" fill="#d81e24"/>
<circle cx="1184.6" cy="839.8" r="2.8" fill="#d81e24"/>
<circle cx="1185.1" cy="832.4" r="2.8" fill="#d81e24"/>
<circle cx="1185.7" cy="836.9" r="2.8" fill="#d81e24"/>
<circle cx="1186.2" cy="833.7" r="2.8" fill="#d81e24"/>
<circle cx="1186.8" cy="833.0" r="2.8" fill="#d81e24"/>
<circle cx="1187.3" cy="836.9" r="2.8" fill="#d81e24"/>
<circle cx="1187.9" cy="835.6" r="2.8" fill="#d81e24"/>
<circle cx="1188.4" cy="834.8" r="2.8" fill="#d81e24"/>
<circle cx="1189.0" cy="835.1" r="2.8" fill="#d81e24"/>
<circle cx="1189.5" cy="836.3" r="2.8" fill="#d81e24"/>
<circle cx="1190.1" cy="831.8" r="2.8" fill="#d81e24"/>
<circle cx="1190.6" cy="832.2" r="2.8" fill="#d81e24"/>
<circle cx="1191.2" cy="837.1" r="2.8" fill="#d81e24"/>
<circle cx="1191.7" cy="837.1" r="2.8" fill="#d81e24"/>
<circle cx="1192.3" cy="835.6" r="2.8" fill="#d81e24"/>
<circle cx="1192.8" cy="839.3" r="2.8" fill="#d81e24"/>
<circle cx="1193.4" cy="836.3" r="2.8" fill="#d81e24"/>
<circle cx="1193.9" cy="839.0" r="2.8" fill="#d81e24"/>
<circle cx="1194.5" cy="831.4" r="2.8" fill="#d81e24"/>
<circle cx="1195.0" cy="837.3" r="2.8" fill="#d81e24"/>
<circle cx="1195.6" cy="837.9" r="2.8" fill="#d81e24"/>
<circle cx="1196.1" cy="838.8" r="2.8" fill="#d81e24"/>
<circle cx="1196.7" cy="831.6" r="2.8" fill="#d81e24"/>
<circle cx="1197.2" cy="831.3" r="2.8" fill="#d81e24"/>
<circle cx="1197.8" cy="838.4" r="2.8" fill="#d81e24"/>
<circle cx="1198.3" cy="829.7" r="2.8" fill="#d81e24"/>
<circle cx="1198.9" cy="838.8" r="2.8" fill="#d81e24"/>
<circle cx="1199.4" cy="837.2" r="2.8" fill="#d81e24"/>
<circle cx="1200.0" cy="827.9" r="2.8" fill="#d81e24"/>
<circle cx="1200.5" cy="828.9" r="2.8" fill="#d81e24"/>
<circle cx="1201.1" cy="834.5" r="2.8" fill="#d81e24"/>
<circle cx="1201.6" cy="828.6" r="2.8" fill="#d81e24"/>
<circle cx="1202.2" cy="826.3" r="2.8" fill="#d81e24"/>
<circle cx="1202.7" cy="834.8" r="2.8" fill="#d81e24"/>
<circle cx="1203.3" cy="829.5" r="2.8" fill="#d81e24"/>
<circle cx="1203.8" cy="833.6" r="2.8" fill="#d81e24"/>
<circle cx="1204.4" cy="825.2" r="2.8" fill="#d81e24"/>
<circle cx="1204.9" cy="828.2" r="2.8" fill="#d81e24"/>
<circle cx="1205.5" cy="831.1" r="2.8" fill="#d81e24"/>
<circle cx="1206.0" cy="822.7" r="2.8" fill="#d81e24"/>
<circle cx="1206.6" cy="824.4" r="2.8" fill="#d81e24"/>
<circle cx="1207.1" cy="829.7" r="2.8" fill="#d81e24"/>
<circle cx="1207.7" cy="832.0" r="2.8" fill="#d81e24"/>
<circle cx="1208.2" cy="832.1" r="2.8" fill="#d81e24"/>
<circle cx="1208.8" cy="821.3" r="2.8" fill="#d81e24"/>
<circle cx="1209.3" cy="825.4" r="2.8" fill="#d81e24"/>
<circle cx="1209.9" cy="827.8" r="2.8" fill="#d81e24"/>
<circle cx="1210.4" cy="824.1" r="2.8" fill="#d81e24"/>
<circle cx="1211.0" cy="825.6" r="2.8" fill="#d81e24"/>
<circle cx="1211.5" cy="819.0" r="2.8" fill="#d81e24"/>
<circle cx="1212.1" cy="816.8" r="2.8" fill="#d81e24"/>
<circle cx="1212.6" cy="816.4" r="2.8" fill="#d81e24"/>
<circle cx="1213.2" cy="814.7" r="2.8" fill="#d81e24"/>
<circle cx="1213.7" cy="820.0" r="2.8" fill="#d81e24"/>
<circle cx="1214.2" cy="818.6" r="2.8" fill="#d81e24"/>
<circle cx="1214.8" cy="818.2" r="2.8" fill="#d81e24"/>
<circle cx="1215.3" cy="812.1" r="2.8" fill="#d81e24"/>
<circle cx="1215.9" cy="811.4" r="2.8" fill="#d81e24"/>
<circle cx="1216.4" cy="810.4" r="2.8" fill="#d81e24"/>
<circle cx="1217.0" cy="820.4" r="2.8" fill="#d81e24"/>
<circle cx="1217.5" cy="820.2" r="2.8" fill="#d81e24"/>
<circle cx="1218.1" cy="818.3" r="2.8" fill="#d81e24"/>
<circle cx="1218.6" cy="810.1" r="2.8" fill="#d81e24"/>
<circle cx="1219.2" cy="808.1" r="2.8" fill="#d81e24"/>
<circle cx="1219.7" cy="813.5" r="2.8" fill="#d81e24"/>
<circle cx="1220.3" cy="807.7" r="2.8" fill="#d81e24"/>
<circle cx="1220.8" cy="808.1" r="2.8" fill="#d81e24"/>
<circle cx="1221.4" cy="802.4" r="2.8" fill="#d81e24"/>
<circle cx="1221.9" cy="801.2" r="2.8" fill="#d81e24"/>
<circle cx="1222.5" cy="799.1" r="2.8" fill="#d81e24"/>
<circle cx="1223.0" cy="795.7" r="2.8" fill="#d81e24"/>
<circle cx="1223.6" cy="794.2" r="2.8" fill="#d81e24"/>
<circle cx="1224.1" cy="786.4" r="2.8" fill="#d81e24"/>
<circle cx="1224.7" cy="788.6" r="2.8" fill="#d81e24"/>
<circle cx="1225.2" cy="786.2" r="2.8" fill="#d81e24"/>
<circle cx="1225.8" cy="777.0" r="2.8" fill="#d81e24"/>
<circle cx="1226.3" cy="775.1" r="2.8" fill="#d81e24"/>
<circle cx="1226.9" cy="773.0" r="2.8" fill="#d81e24"/>
<circle cx="1227.4" cy="765.6" r="2.8" fill="#d81e24"/>
<circle cx="1228.0" cy="758.9" r="2.8" fill="#d81e24"/>
<circle cx="1228.5" cy="753.3" r="2.8" fill="#d81e24"/>
<circle cx="1229.1" cy="750.3" r="2.8" fill="#d81e24"/>
<circle cx="1229.6" cy="740.3" r="2.8" fill="#d81e24"/>
<circle cx="1230.2" cy="740.9" r="2.8" fill="#d81e24"/>
<circle cx="1230.7" cy="733.5" r="2.8" fill="#d81e24"/>
<circle cx="1231.3" cy="725.8" r="2.8" fill="#d81e24"/>
<circle cx="1231.8" cy="719.8" r="2.8" fill="#d81e24"/>
<circle cx="1232.4" cy="710.6" r="2.8" fill="#d81e24"/>
<circle cx="1232.9" cy="701.4" r="2.8" fill="#d81e24"/>
<circle cx="1233.5" cy="695.7" r="2.8" fill="#d81e24"/>
<circle cx="1234.0" cy="687.8" r="2.8" fill="#d81e24"/>
<circle cx="1234.6" cy="685.0" r="2.8" fill="#d81e24"/>
<circle cx="1235.1" cy="677.4" r="2.8" fill="#d81e24"/>
<circle cx="1235.7" cy="667.7" r="2.8" fill="#d81e24"/>
<circle cx="1236.2" cy="668.6" r="2.8" fill="#d81e24"/>
<circle cx="1236.8" cy="663.9" r="2.8" fill="#d81e24"/>
<circle cx="1237.3" cy="662.2" r="2.8" fill="#d81e24"/>
<circle cx="1237.9" cy="661.8" r="2.8" fill="#d81e24"/>
<circle cx="1238.4" cy="659.2" r="2.8" fill="#d81e24"/>
<circle cx="1239.0" cy="665.2" r="2.8" fill="#d81e24"/>
<circle cx="1239.5" cy="668.3" r="2.8" fill="#d81e24"/>
<circle cx="1240.1" cy="671.3" r="2.8" fill="#d81e24"/>
<circle cx="1240.6" cy="677.2" r="2.8" fill="#d81e24"/>
<circle cx="1241.2" cy="683.3" r="2.8" fill="#d81e24"/>
<circle cx="1241.7" cy="687.2" r="2.8" fill="#d81e24"/>
<circle cx="1242.3" cy="696.8" r="2.8" fill="#d81e24"/>
<circle cx="1242.8" cy="698.9" r="2.8" fill="#d81e24"/>
<circle cx="1243.4" cy="708.5" r="2.8" fill="#d81e24"/>
<circle cx="1243.9" cy="716.9" r="2.8" fill="#d81e24"/>
<circle cx="1244.5" cy="720.4" r="2.8" fill="#d81e24"/>
<circle cx="1245.0" cy="730.2" r="2.8" fill="#d81e24"/>
<circle cx="1245.6" cy="739.1" r="2.8" fill="#d81e24"/>
<circle cx="1246.1" cy="745.4" r="2.8" fill="#d81e24"/>
<circle cx="1246.7" cy="748.4" r="2.8" fill="#d81e24"/>
<circle cx="1247.2" cy="759.8" r="2.8" fill="#d81e24"/>
<circle cx="1247.8" cy="763.0" r="2.8" fill="#d81e24"/>
<circle cx="1248.3" cy="765.4" r="2.8" fill="#d81e24"/>
<circle cx="1248.9" cy="772.7" r="2.8" fill="#d81e24"/>
<circle cx="1249.4" cy="776.4" r="2.8" fill="#d81e24"/>
<circle cx="1250.0" cy="780.2" r="2.8" fill="#d81e24"/>
<circle cx="1250.5" cy="782.9" r="2.8" fill="#d81e24"/>
<circle cx="1251.1" cy="791.4" r="2.8" fill="#d81e24"/>
<circle cx="1251.6" cy="791.9" r="2.8" fill="#d81e24"/>
<circle cx="1252.2" cy="795.5" r="2.8" fill="#d81e24"/>
<circle cx="1252.7" cy="798.8" r="2.8" fill="#d81e24"/>
<circle cx="1253.3" cy="803.3" r="2.8" fill="#d81e24"/>
<circle cx="1253.8" cy="798.1" r="2.8" fill="#d81e24"/>
<circle cx="1254.4" cy="805.2" r="2.8" fill="#d81e24"/>
<circle cx="1254.9" cy="808.4" r="2.8" fill="#d81e24"/>
<circle cx="1255.5" cy="806.6" r="2.8" fill="#d81e24"/>
<circle cx="1256.0" cy="809.7" r="2.8" fill="#d81e24"/>
<circle cx="1256.6" cy="808.7" r="2.8" fill="#d81e24"/>
<circle cx="1257.1" cy="811.5" r="2.8" fill="#d81e24"/>
<circle cx="1257.7" cy="814.5" r="2.8" fill="#d81e24"/>
<circle cx="1258.2" cy="813.8" r="2.8" fill="#d81e24"/>
<circle cx="1258.8" cy="816.4" r="2.8" fill="#d81e24"/>
<circle cx="1259.3" cy="819.6" r="2.8" fill="#d81e24"/>
<circle cx="1259.9" cy="816.5" r="2.8" fill="#d81e24"/>
<circle cx="1260.4" cy="817.2" r="2.8" fill="#d81e24"/>
<circle cx="1261.0" cy="823.8" r="2.8" fill="#d81e24"/>
<circle cx="1261.5" cy="820.0" r="2.8" fill="#d81e24"/>
<circle cx="1262.1" cy="826.1" r="2.8" fill="#d81e24"/>
<circle cx="1262.6" cy="822.8" r="2.8" fill="#d81e24"/>
<circle cx="1263.2" cy="825.7" r="2.8" fill="#d81e24"/>
<circle cx="1263.7" cy="817.7" r="2.8" fill="#d81e24"/>
<circle cx="1264.3" cy="824.7" r="2.8" fill="#d81e24"/>
<circle cx="1264.8" cy="827.4" r="2.8" fill="#d81e24"/>
<circle cx="1265.4" cy="819.6" r="2.8" fill="#d81e24"/>
<circle cx="1265.9" cy="830.9" r="2.8" fill="#d81e24"/>
<circle cx="1266.5" cy="822.2" r="2.8" fill="#d81e24"/>
<circle cx="1267.0" cy="826.6" r="2.8" fill="#d81e24"/>
<circle cx="1267.6" cy="823.5" r="2.8" fill="#d81e24"/>
<circle cx="1268.1" cy="828.0" r="2.8" fill="#d81e24"/>
<circle cx="1268.6" cy="829.9" r="2.8" fill="#d81e24"/>
<circle cx="1269.2" cy="823.8" r="2.8" fill="#d81e24"/>
<circle cx="1269.7" cy="834.9" r="2.8" fill="#d81e24"/>
<circle cx="1270.3" cy="829.0" r="2.8" fill="#d81e24"/>
<circle cx="1270.8" cy="830.8" r="2.8" fill="#d81e24"/>
<circle cx="1271.4" cy="832.0" r="2.8" fill="#d81e24"/>
<circle cx="1271.9" cy="829.6" r="2.8" fill="#d81e24"/>
<circle cx="1272.5" cy="829.1" r="2.8" fill="#d81e24"/>
<circle cx="1273.0" cy="833.9" r="2.8" fill="#d81e24"/>
<circle cx="1273.6" cy="833.1" r="2.8" fill="#d81e24"/>
<circle cx="1274.1" cy="830.1" r="2.8" fill="#d81e24"/>
<circle cx="1274.7" cy="835.6" r="2.8" fill="#d81e24"/>
<circle cx="1275.2" cy="830.9" r="2.8" fill="#d81e24"/>
<circle cx="1275.8" cy="827.8" r="2.8" fill="#d81e24"/>
<circle cx="1276.3" cy="830.8" r="2.8" fill="#d81e24"/>
<circle cx="1276.9" cy="828.7" r="2.8" fill="#d81e24"/>
<circle cx="1277.4" cy="830.3" r="2.8" fill="#d81e24"/>
<circle cx="1278.0" cy="837.8" r="2.8" fill="#d81e24"/>
<circle cx="1278.5" cy="833.6" r="2.8" fill="#d81e24"/>
<circle cx="1279.1" cy="840.0" r="2.8" fill="#d81e24"/>
<circle cx="1279.6" cy="838.4" r="2.8" fill="#d81e24"/>
<circle cx="1280.2" cy="830.2" r="2.8" fill="#d81e24"/>
<circle cx="1280.7" cy="841.7" r="2.8" fill="#d81e24"/>
<circle cx="1281.3" cy="841.4" r="2.8" fill="#d81e24"/>
<circle cx="1281.8" cy="831.1" r="2.8" fill="#d81e24"/>
<circle cx="1282.4" cy="841.3" r="2.8" fill="#d81e24"/>
<circle cx="1282.9" cy="835.8" r="2.8" fill="#d81e24"/>
<circle cx="1283.5" cy="836.5" r="2.8" fill="#d81e24"/>
<circle cx="1284.0" cy="842.7" r="2.8" fill="#d81e24"/>
<circle cx="1284.6" cy="834.1" r="2.8" fill="#d81e24"/>
<circle cx="1285.1" cy="837.6" r="2.8" fill="#d81e24"/>
<circle cx="1285.7" cy="842.7" r="2.8" fill="#d81e24"/>
<circle cx="1286.2" cy="840.3" r="2.8" fill="#d81e24"/>
<circle cx="1286.8" cy="837.4" r="2.8" fill="#d81e24"/>
<circle cx="1287.3" cy="843.7" r="2.8" fill="#d81e24"/>
<circle cx="1287.9" cy="841.9" r="2.8" fill="#d81e24"/>
<circle cx="1288.4" cy="839.4" r="2.8" fill="#d81e24"/>
<circle cx="1289.0" cy="833.7" r="2.8" fill="#d81e24"/>
<circle cx="1289.5" cy="840.0" r="2.8" fill="#d81e24"/>
<circle cx="1290.1" cy="838.1" r="2.8" fill="#d81e24"/>
<circle cx="1290.6" cy="835.2" r="2.8" fill="#d81e24"/>
<circle cx="1291.2" cy="833.5" r="2.8" fill="#d81e24"/>
<circle cx="1291.7" cy="839.3" r="2.8" fill="#d81e24"/>
<circle cx="1292.3" cy="834.6" r="2.8" fill="#d81e24"/>
<circle cx="1292.8" cy="838.5" r="2.8" fill="#d81e24"/>
<circle cx="1293.4" cy="841.3" r="2.8" fill="#d81e24"/>
<circle cx="1293.9" cy="838.8" r="2.8" fill="#d81e24"/>
<circle cx="1294.5" cy="836.6" r="2.8" fill="#d81e24"/>
<circle cx="1295.0" cy="840.6" r="2.8" fill="#d81e24"/>
<circle cx="1295.6" cy="838.7" r="2.8" fill="#d81e24"/>
<circle cx="1296.1" cy="843.1" r="2.8" fill="#d81e24"/>
<circle cx="1296.7" cy="840.2" r="2.8" fill="#d81e24"/>
<circle cx="1297.2" cy="845.9" r="2.8" fill="#d81e24"/>
<circle cx="1297.8" cy="845.5" r="2.8" fill="#d81e24"/>
<circle cx="1298.3" cy="842.9" r="2.8" fill="#d81e24"/>
<circle cx="1298.9" cy="837.1" r="2.8" fill="#d81e24"/>
<circle cx="1299.4" cy="835.7" r="2.8" fill="#d81e24"/>
<circle cx="1300.0" cy="845.1" r="2.8" fill="#d81e24"/>
<circle cx="1300.5" cy="843.9" r="2.8" fill="#d81e24"/>
<circle cx="1301.1" cy="842.0" r="2.8" fill="#d81e24"/>
<circle cx="1301.6" cy="838.9" r="2.8" fill="#d81e24"/>
<circle cx="1302.2" cy="837.9" r="2.8" fill="#d81e24"/>
<circle cx="1302.7" cy="843.0" r="2.8" fill="#d81e24"/>
<circle cx="1303.3" cy="841.6" r="2.8" fill="#d81e24"/>
<circle cx="1303.8" cy="842.0" r="2.8" fill="#d81e24"/>
<circle cx="1304.4" cy="842.5" r="2.8" fill="#d81e24"/>
<circle cx="1304.9" cy="844.0" r="2.8" fill="#d81e24"/>
<circle cx="1305.5" cy="837.3" r="2.8" fill="#d81e24"/>
<circle cx="1306.0" cy="838.1" r="2.8" fill="#d81e24"/>
<circle cx="1306.6" cy="847.0" r="2.8" fill="#d81e24"/>
<circle cx="1307.1" cy="846.2" r="2.8" fill="#d81e24"/>
<circle cx="1307.7" cy="845.9" r="2.8" fill="#d81e24"/>
<circle cx="1308.2" cy="835.8" r="2.8" fill="#d81e24"/>
<circle cx="1308.8" cy="836.2" r="2.8" fill="#d81e24"/>
<circle cx="1309.3" cy="838.7" r="2.8" fill="#d81e24"/>
<circle cx="1309.9" cy="840.6" r="2.8" fill="#d81e24"/>
<circle cx="1310.4" cy="843.1" r="2.8" fill="#d81e24"/>
<circle cx="1311.0" cy="836.9" r="2.8" fill="#d81e24"/>
<circle cx="1311.5" cy="842.2" r="2.8" fill="#d81e24"/>
<circle cx="1312.1" cy="836.6" r="2.8" fill="#d81e24"/>
<circle cx="1312.6" cy="836.8" r="2.8" fill="#d81e24"/>
<circle cx="1313.2" cy="844.0" r="2.8" fill="#d81e24"/>
<circle cx="1313.7" cy="842.5" r="2.8" fill="#d81e24"/>
<circle cx="1314.3" cy="843.5" r="2.8" fill="#d81e24"/>
<circle cx="1314.8" cy="840.5" r="2.8" fill="#d81e24"/>
<circle cx="1315.4" cy="841.8" r="2.8" fill="#d81e24"/>
<circle cx="1315.9" cy="838.6" r="2.8" fill="#d81e24"/>
<circle cx="1316.5" cy="840.2" r="2.8" fill="#d81e24"/>
<circle cx="1317.0" cy="845.1" r="2.8" fill="#d81e24"/>
<circle cx="1317.6" cy="846.3" r="2.8" fill="#d81e24"/>
<circle cx="1318.1" cy="837.1" r="2.8" fill="#d81e24"/>
<circle cx="1318.7" cy="837.7" r="2.8" fill="#d81e24"/>
<circle cx="1319.2" cy="846.0" r="2.8" fill="#d81e24"/>
<circle cx="1319.8" cy="843.9" r="2.8" fill="#d81e24"/>
<circle cx="1320.3" cy="845.6" r="2.8" fill="#d81e24"/>
<circle cx="1320.9" cy="839.0" r="2.8" fill="#d81e24"/>
<circle cx="1321.4" cy="841.6" r="2.8" fill="#d81e24"/>
<circle cx="1322.0" cy="839.6" r="2.8" fill="#d81e24"/>
<circle cx="1322.5" cy="846.3" r="2.8" fill="#d81e24"/>
<circle cx="1323.1" cy="841.0" r="2.8" fill="#d81e24"/>
<path d="M1161.4,842.4 L1162.5,842.3 L1163.5,842.2 L1164.6,842.2 L1165.6,842.1 L1166.7,842.0 L1167.8,842.0 L1168.8,841.9 L1169.9,841.8 L1170.9,841.7 L1172.0,841.6 L1173.1,841.5 L1174.1,841.4 L1175.2,841.3 L1176.2,841.2 L1177.3,841.1 L1178.4,841.0 L1179.4,840.8 L1180.5,840.7 L1181.5,840.5 L1182.6,840.4 L1183.7,840.2 L1184.7,840.0 L1185.8,839.8 L1186.8,839.6 L1187.9,839.4 L1189.0,839.1 L1190.0,838.9 L1191.1,838.6 L1192.1,838.3 L1193.2,838.0 L1194.3,837.6 L1195.3,837.3 L1196.4,836.9 L1197.4,836.5 L1198.5,836.0 L1199.6,835.5 L1200.6,835.0 L1201.7,834.4 L1202.7,833.8 L1203.8,833.1 L1204.9,832.4 L1205.9,831.5 L1207.0,830.6 L1208.0,829.7 L1209.1,828.6 L1210.2,827.4 L1211.2,826.1 L1212.3,824.6 L1213.3,823.0 L1214.4,821.1 L1215.5,819.1 L1216.5,816.8 L1217.6,814.2 L1218.6,811.3 L1219.7,808.0 L1220.8,804.3 L1221.8,800.0 L1222.9,795.1 L1223.9,789.4 L1225.0,783.0 L1226.1,775.6 L1227.1,767.1 L1228.2,757.5 L1229.2,746.6 L1230.3,734.4 L1231.4,721.1 L1232.4,707.1 L1233.5,692.9 L1234.5,679.6 L1235.6,668.4 L1236.7,660.6 L1237.7,657.4 L1238.8,659.1 L1239.8,665.7 L1240.9,676.1 L1242.0,688.9 L1243.0,703.0 L1244.1,717.2 L1245.1,730.8 L1246.2,743.3 L1247.3,754.7 L1248.3,764.7 L1249.4,773.6 L1250.4,781.3 L1251.5,788.1 L1252.6,794.0 L1253.6,799.1 L1254.7,803.6 L1255.7,807.5 L1256.8,811.0 L1257.9,814.1 L1258.9,816.8 L1260.0,819.2 L1261.0,821.3 L1262.1,823.3 L1263.2,825.0 L1264.2,826.5 L1265.3,827.9 L1266.3,829.2 L1267.4,830.3 L1268.5,831.4 L1269.5,832.4 L1270.6,833.2 L1271.6,834.0 L1272.7,834.8 L1273.8,835.4 L1274.8,836.1 L1275.9,836.7 L1276.9,837.2 L1278.0,837.7 L1279.1,838.2 L1280.1,838.6 L1281.2,839.0 L1282.2,839.4 L1283.3,839.8 L1284.4,840.1 L1285.4,840.4 L1286.5,840.7 L1287.5,841.0 L1288.6,841.2 L1289.7,841.5 L1290.7,841.7 L1291.8,842.0 L1292.8,842.2 L1293.9,842.4 L1295.0,842.6 L1296.0,842.8 L1297.1,842.9 L1298.1,843.1 L1299.2,843.3 L1300.3,843.4 L1301.3,843.6 L1302.4,843.7 L1303.4,843.8 L1304.5,844.0 L1305.6,844.1 L1306.6,844.2 L1307.7,844.3 L1308.7,844.4 L1309.8,844.5 L1310.9,844.6 L1311.9,844.7 L1313.0,844.8 L1314.0,844.9 L1315.1,845.0 L1316.2,845.1 L1317.2,845.2 L1318.3,845.3 L1319.3,845.3 L1320.4,845.4 L1321.5,845.5 L1322.5,845.6" fill="none" stroke="#24409a" stroke-width="2.2" opacity="0.85"/>
<circle cx="1223.0" cy="795.7" r="2.4" fill="#9a2a55" opacity="0.6"/>
<circle cx="1225.2" cy="786.2" r="2.4" fill="#9a2a55" opacity="0.6"/>
<circle cx="1227.4" cy="765.6" r="2.4" fill="#9a2a55" opacity="0.6"/>
<circle cx="1229.6" cy="740.3" r="2.4" fill="#9a2a55" opacity="0.6"/>
<circle cx="1231.8" cy="719.8" r="2.4" fill="#9a2a55" opacity="0.6"/>
<circle cx="1234.0" cy="687.8" r="2.4" fill="#9a2a55" opacity="0.6"/>
<circle cx="1236.2" cy="668.6" r="2.4" fill="#9a2a55" opacity="0.6"/>
<circle cx="1238.4" cy="659.2" r="2.4" fill="#9a2a55" opacity="0.6"/>
<circle cx="1240.6" cy="677.2" r="2.4" fill="#9a2a55" opacity="0.6"/>
<circle cx="1242.8" cy="698.9" r="2.4" fill="#9a2a55" opacity="0.6"/>
<circle cx="1245.0" cy="730.2" r="2.4" fill="#9a2a55" opacity="0.6"/>
<circle cx="1247.2" cy="759.8" r="2.4" fill="#9a2a55" opacity="0.6"/>
<circle cx="1249.4" cy="776.4" r="2.4" fill="#9a2a55" opacity="0.6"/>
<circle cx="1251.6" cy="791.9" r="2.4" fill="#9a2a55" opacity="0.6"/>
<circle cx="1253.8" cy="798.1" r="2.4" fill="#9a2a55" opacity="0.6"/>
<circle cx="1256.0" cy="809.7" r="2.4" fill="#9a2a55" opacity="0.6"/>
<circle cx="1258.2" cy="813.8" r="2.4" fill="#9a2a55" opacity="0.6"/>
<rect x="1156.4" y="645.5" width="167.5" height="211.5" fill="none" stroke="#000" stroke-width="2"/>
<text x="1163.5" y="704.1" font-size="23">0.1 pA</text>
<line x1="1161.5" y1="680" x2="1161.5" y2="712" stroke="#000" stroke-width="1.4"/>
<path d="M1161.5,674 L1157.7,681.5 L1165.3,681.5 Z M1161.5,717.7 L1157.7,710.2 L1165.3,710.2 Z" fill="#000"/>
<text x="1189.1" y="874.6" font-size="22" text-anchor="middle">580</text>
<text x="1242.1" y="874.6" font-size="22" text-anchor="middle">590</text>
<text x="1295.1" y="874.6" font-size="22" text-anchor="middle">600</text>
<text x="1204.5" y="895.3" font-size="25"><tspan font-style="italic">B</tspan><tspan dx="2"> [mT]</tspan></text>
<text transform="translate(1146.5,764) rotate(-90)" font-size="23"><tspan font-style="italic">ΔI</tspan><tspan font-size="17" dy="5">s</tspan></text>
<rect x="1178.5" y="900" width="121" height="5" fill="#e9f0fb"/>
<line x1="1178.5" y1="899" x2="1178.5" y2="906" stroke="#000" stroke-width="1.5"/>
</g>
</svg>
</body></html>
